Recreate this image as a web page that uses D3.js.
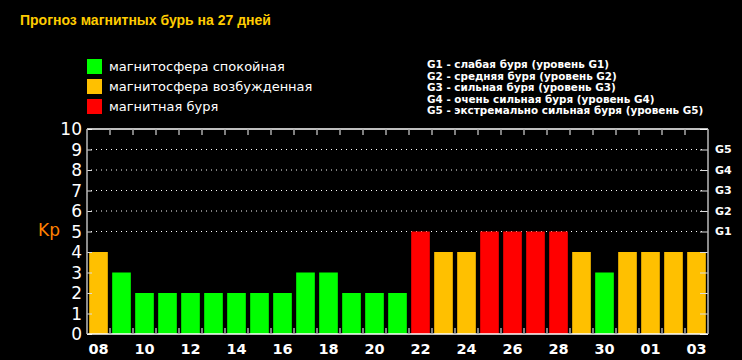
<!DOCTYPE html>
<html><head><meta charset="utf-8">
<script src="https://cdn.jsdelivr.net/npm/d3@7"></script>
<style>html,body{margin:0;padding:0;background:#000;}svg{display:block;}</style>
</head><body>
<script>
const days = ["08","09","10","11","12","13","14","15","16","17","18","19","20","21","22","23","24","25","26","27","28","29","30","31","01","02","03"];
const kpValues = [4,3,2,2,2,2,2,2,2,3,3,2,2,2,5,4,4,5,5,5,5,4,3,4,4,4,4];
const yTicks = [0,1,2,3,4,5,6,7,8,9,10];
const gLevels = ["G1","G2","G3","G4","G5"];
const gLevelKp = [5,6,7,8,9];
const legendLabels = ["магнитосфера спокойная","магнитосфера возбужденная","магнитная буря"];
const legendColors = ["#00ff00","#ffc000","#ff0000"];
const gLegend = ["G1 - слабая буря (уровень G1)","G2 - средняя буря (уровень G2)","G3 - сильная буря (уровень G3)","G4 - очень сильная буря (уровень G4)","G5 - экстремально сильная буря (уровень G5)"];
const titleText = "Прогноз магнитных бурь на 27 дней";

(function(){
const W = 742, H = 360;
const svg = d3.select("body").append("svg").attr("width", W).attr("height", H);
svg.append("rect").attr("width", W).attr("height", H).attr("fill", "#000");

const pl = 87, pr = 708, pt = 129, pb = 334;
const x = d3.scaleBand().domain(days).range([pl, pr]).paddingInner(0.19).paddingOuter(0.095);
const y = d3.scaleLinear().domain([0, 10]).range([pb, pt]);
const colorFor = v => v >= 5 ? legendColors[2] : (v >= 4 ? legendColors[1] : legendColors[0]);

// title
svg.append("text").attr("x", 20).attr("y", 25).text(titleText)
  .attr("font-family", "Liberation Sans, Arial, sans-serif").attr("font-weight", "bold")
  .attr("font-size", 14).attr("fill", "#ffcc00");

// legend
legendLabels.forEach((t, i) => {
  const cy = 66.5 + i * 20;
  svg.append("rect").attr("x", 87).attr("y", cy - 7.5).attr("width", 15).attr("height", 15).attr("fill", legendColors[i]);
  svg.append("text").attr("x", 109).attr("y", cy + 4.5).text(t)
    .attr("font-family", "DejaVu Sans, sans-serif").attr("font-size", 13).attr("fill", "#fff");
});
gLegend.forEach((t, i) => {
  svg.append("text").attr("x", 427).attr("y", 68 + i * 11.5).text(t)
    .attr("font-family", "DejaVu Sans, sans-serif").attr("font-weight", "bold")
    .attr("font-size", 10.4).attr("fill", "#fff");
});

// gridlines
svg.append("g").selectAll("line").data(gLevelKp).join("line")
  .attr("x1", pl + 4).attr("x2", pr - 6)
  .attr("y1", d => y(d)).attr("y2", d => y(d))
  .attr("stroke", "#fff").attr("stroke-width", 1).attr("stroke-dasharray", "1,4");

// bars
svg.append("g").selectAll("rect").data(kpValues).join("rect")
  .attr("x", (d, i) => x(days[i])).attr("width", x.bandwidth())
  .attr("y", d => y(d)).attr("height", d => y(0) - y(d))
  .attr("fill", d => colorFor(d));

// axes ticks
const gL = svg.append("g").attr("transform", `translate(${pl},0)`).call(d3.axisRight(y).tickValues(yTicks).tickSize(5).tickFormat(""));
gL.select(".domain").remove();
gL.selectAll("line").attr("stroke", "#ddd");
const gR = svg.append("g").attr("transform", `translate(${pr},0)`).call(d3.axisLeft(y).tickValues(yTicks).tickSize(8).tickFormat(""));
gR.select(".domain").remove();
gR.selectAll("line").attr("stroke", "#ddd");

// frame
svg.append("line").attr("x1", pl).attr("x2", pr).attr("y1", pt).attr("y2", pt).attr("stroke", "#fff").attr("stroke-width", 1.5);
svg.append("line").attr("x1", pl).attr("x2", pr).attr("y1", pb).attr("y2", pb).attr("stroke", "#fff").attr("stroke-width", 1.5);
svg.append("line").attr("x1", pl).attr("x2", pl).attr("y1", pt).attr("y2", pb).attr("stroke", "#bbb").attr("stroke-width", 1.5);
svg.append("line").attr("x1", pr).attr("x2", pr).attr("y1", pt).attr("y2", pb).attr("stroke", "#bbb").attr("stroke-width", 1.5);

// band boundary ticks
const bounds = days.slice(1).map(d => x(d) - x.step() * x.paddingInner() / 2);
svg.append("g").selectAll("line").data(bounds).join("line")
  .attr("x1", d => d).attr("x2", d => d).attr("y1", pb).attr("y2", pb - 6)
  .attr("stroke", "#aaa").attr("stroke-width", 1.5);
svg.append("g").selectAll("line").data(bounds).join("line")
  .attr("x1", d => d).attr("x2", d => d).attr("y1", pt).attr("y2", pt + 6)
  .attr("stroke", "#aaa").attr("stroke-width", 1.5);

// y labels
svg.append("g").selectAll("text").data(yTicks).join("text")
  .attr("x", 82).attr("y", d => y(d)).attr("dy", "0.36em").attr("text-anchor", "end")
  .text(d => d).attr("font-family", "DejaVu Sans, sans-serif").attr("font-size", 17).attr("fill", "#fff");

// Kp label
svg.append("text").attr("x", 38).attr("y", 236).text("Kp")
  .attr("font-family", "DejaVu Sans, sans-serif").attr("font-size", 17).attr("fill", "#ff8000");

// G labels
svg.append("g").selectAll("text").data(gLevels).join("text")
  .attr("x", 715).attr("y", (d, i) => y(gLevelKp[i])).attr("dy", "0.36em")
  .text(d => d).attr("font-family", "DejaVu Sans, sans-serif").attr("font-weight", "bold")
  .attr("font-size", 11).attr("fill", "#fff");

// x labels
svg.append("g").selectAll("text").data(days.filter((d, i) => i % 2 === 0)).join("text")
  .attr("x", d => x(d) + x.bandwidth() / 2).attr("y", 354).attr("text-anchor", "middle")
  .text(d => d).attr("font-family", "DejaVu Sans, sans-serif").attr("font-weight", "bold")
  .attr("font-size", 14.5).attr("fill", "#fff");
})();
</script>
</body></html>
